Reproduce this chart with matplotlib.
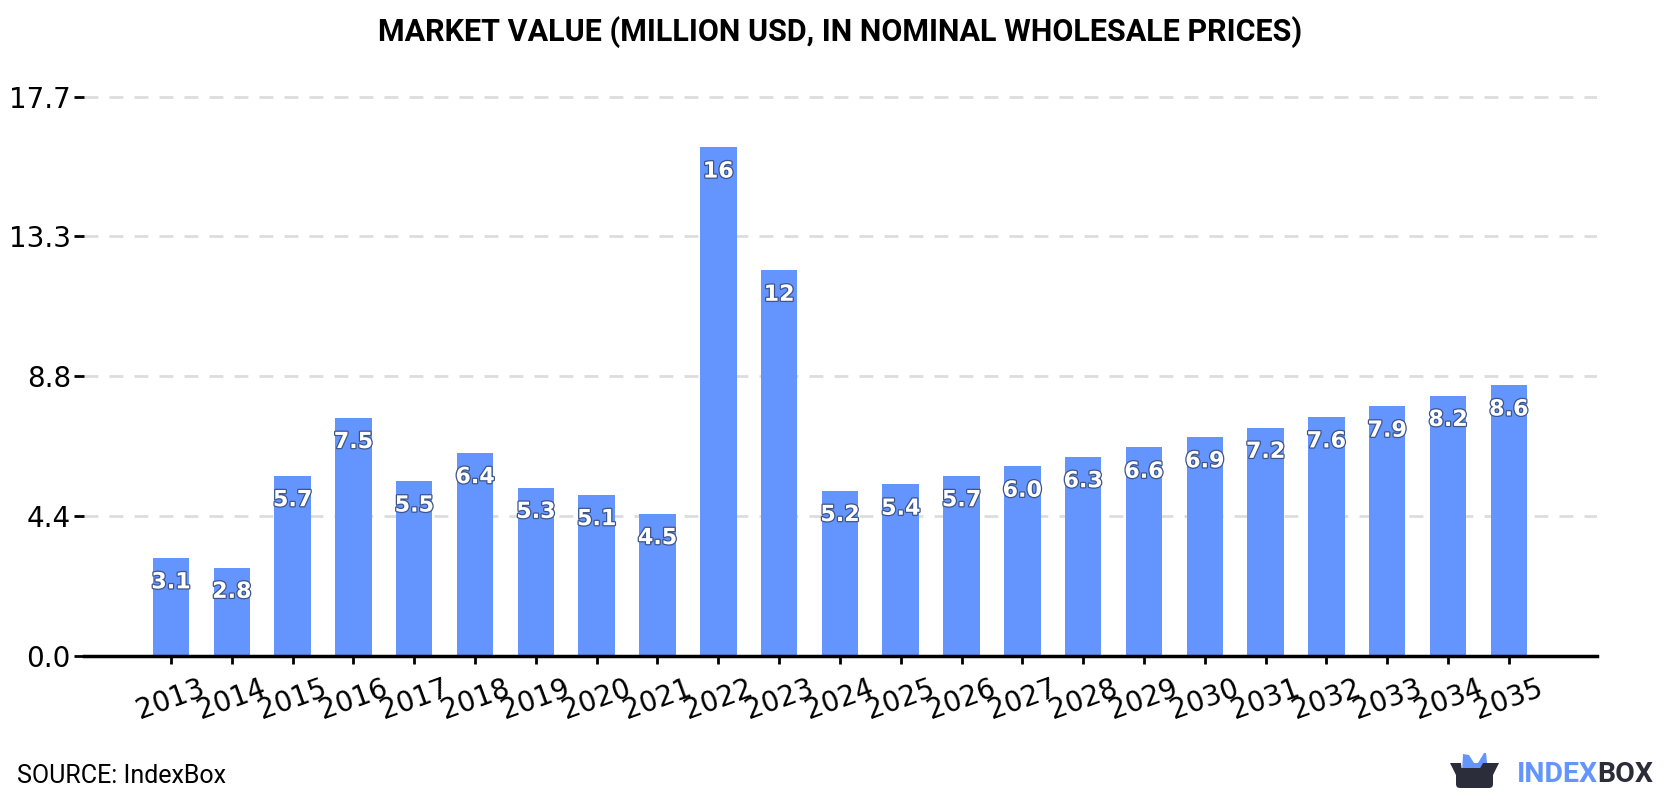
#!/usr/bin/env python
"""Market value bar chart, 2013-2035, with IndexBox footer."""
import matplotlib
matplotlib.use("Agg")
import matplotlib.pyplot as plt
import matplotlib.patheffects as pe
from matplotlib.patches import Polygon, FancyBboxPatch

W, H = 1680, 800

years = list(range(2013, 2036))
values = [3.1, 2.8, 5.7, 7.54, 5.53, 6.43, 5.33, 5.1, 4.5, 16.1, 12.2, 5.23,
          5.43, 5.7, 6.0, 6.3, 6.6, 6.93, 7.23, 7.56, 7.9, 8.24, 8.57]
y_ticks = [0.0, 4.43, 8.85, 13.28, 17.7]
y_tick_labels = ["0.0", "4.4", "8.8", "13.3", "17.7"]
title = "MARKET VALUE (MILLION USD, IN NOMINAL WHOLESALE PRICES)"
source = "SOURCE: IndexBox"

BLUE = "#6495ff"
DARK = "#2b2d3a"


def px_axes(fig, x0, y0, x1, y1):
    """Axes from pixel box, y measured from the top of the figure."""
    return fig.add_axes([x0 / W, 1 - y1 / H, (x1 - x0) / W, (y1 - y0) / H])


def bar_label(v):
    return f"{v:.0f}" if v >= 10 else f"{v:.1f}"


fig = plt.figure(figsize=(W / 100, H / 100), dpi=100)
ax = px_axes(fig, 84, 70, 1597, 656)
ax.bar(years, values, width=0.6, color=BLUE, zorder=2)

px_per_unit = 31.6
ax.set_ylim(0, 586 / px_per_unit)
ax.set_xlim(2013 - 1.43, 2035 + 1.45)

for v, yr in zip(values, years):
    ax.annotate(bar_label(v), (yr, v), xytext=(0, -17.5), textcoords="offset points",
                ha="center", va="center", fontsize=16, fontweight="bold", color="white",
                zorder=3, path_effects=[pe.withStroke(linewidth=1.8, foreground="#3d5488")])

ax.set_yticks(y_ticks)
ax.set_yticklabels(y_tick_labels)
ax.set_xticks(years)
ax.set_xticklabels(years, rotation=20)
ax.tick_params(axis="y", labelsize=20, length=7, width=2, pad=2.5)
ax.tick_params(axis="x", labelsize=20, length=6, width=2, pad=7)
ax.yaxis.grid(True, color="#dddddd", lw=2, ls=(0, (5, 4)), zorder=0)
ax.set_axisbelow(True)
for side in ("top", "left", "right"):
    ax.spines[side].set_visible(False)
ax.spines["bottom"].set_linewidth(2.5)

fig.text(840 / W, 1 - 32 / H, title, ha="center", va="center", fontsize=22,
         fontweight="bold", family="Roboto", color="black")
fig.text(17 / W, 1 - 776 / H, source, ha="left", va="center", fontsize=18,
         family="Roboto", color="black")

# logo drawn on an overlay in pixel coordinates
ov = fig.add_axes([0, 0, 1, 1], facecolor="none")
ov.set_xlim(0, W)
ov.set_ylim(H, 0)
ov.axis("off")
ov.add_patch(Polygon([(1462, 772), (1463, 754), (1469, 755), (1474, 763), (1478, 763),
                      (1484, 753), (1486, 753), (1488, 772), (1480, 773)],
                     closed=True, color=BLUE, lw=0))
ov.add_patch(FancyBboxPatch((1456, 768), 37, 20, boxstyle="round,pad=0,rounding_size=4",
                            color=DARK, lw=0))
ov.add_patch(Polygon([(1450, 763), (1461, 763), (1462, 772), (1478, 772), (1483, 763),
                      (1499, 763), (1493, 775), (1456, 775)],
                     closed=True, color=DARK, lw=0))
ov.text(1517, 775, "INDEX", ha="left", va="center", fontsize=20.5, fontweight="bold",
        family="Roboto", color=BLUE)
ov.text(1597, 775, "BOX", ha="left", va="center", fontsize=20.5, fontweight="bold",
        family="Roboto", color=DARK)

fig.savefig("out.png", dpi=100)
